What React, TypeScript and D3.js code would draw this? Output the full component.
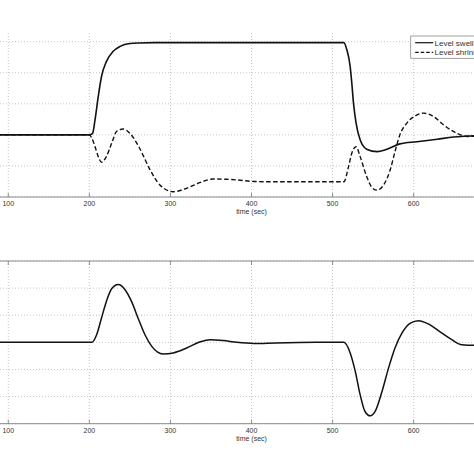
import { useEffect } from 'react';
import * as d3 from 'd3';

// Shared time axis ticks (sec)
const X_TICKS = [100, 200, 300, 400, 500, 600];
const TOP_Y_TICKS = [-0.2, -0.1, 0, 0.1, 0.2, 0.3];
const BOTTOM_Y_TICKS = [-3, -2, -1, 0, 1, 2, 3];

// Upper panel: level response, swell (solid) and shrink (dashed)
const swellTime = [0, 200, 204, 207, 211, 215, 221, 229.5, 238, 250, 262, 280, 400, 514, 517.6, 521.7, 523.7, 525.8, 529, 534, 542, 555, 567, 583, 604, 629, 649, 666, 690, 720];
const swellLevel = [0, 0, 0.005, 0.048, 0.124, 0.188, 0.236, 0.269, 0.285, 0.294, 0.296, 0.297, 0.297, 0.297, 0.274, 0.22, 0.167, 0.102, 0.038, -0.016, -0.046, -0.054, -0.046, -0.029, -0.022, -0.014, -0.007, -0.004, -0.001, 0];

const shrinkTime = [0, 200, 203, 207, 211, 215, 221, 227.5, 233.6, 241.8, 250, 262, 275, 287, 303.5, 320, 336, 353, 369, 382, 403, 430, 470, 514, 519.7, 523.7, 529, 534, 542, 548, 554.6, 563, 571, 577, 583, 591.6, 602, 612, 624.5, 637, 649, 666, 690, 720];
const shrinkLevel = [0, 0, -0.01, -0.038, -0.07, -0.088, -0.07, -0.027, 0.011, 0.019, 0.005, -0.043, -0.113, -0.161, -0.183, -0.172, -0.154, -0.142, -0.143, -0.145, -0.15, -0.151, -0.151, -0.151, -0.102, -0.059, -0.038, -0.07, -0.134, -0.167, -0.178, -0.161, -0.113, -0.054, 0, 0.038, 0.061, 0.07, 0.059, 0.032, 0.011, -0.005, -0.004, 0];

// Lower panel
const lowerTime = [0, 203, 209, 215, 221, 227.5, 235.7, 244, 252, 260, 268.6, 277, 291, 303.5, 320, 336, 349, 365, 382, 403, 430, 480, 514, 521.7, 528, 534, 540, 546.4, 552.5, 561, 569, 577, 585.5, 596, 606, 618, 633, 647, 659.5, 674, 700, 720];
const lowerValue = [0, 0, 0.28, 0.9, 1.51, 1.98, 2.13, 1.94, 1.51, 0.9, 0.28, -0.15, -0.43, -0.39, -0.21, 0.01, 0.1, 0.07, 0, -0.04, -0.02, 0, 0, -0.39, -1.07, -1.93, -2.55, -2.71, -2.55, -1.81, -0.95, -0.21, 0.34, 0.71, 0.8, 0.68, 0.38, 0.1, -0.09, -0.11, -0.06, 0];

const LEGEND = ['Level swell', 'Level shrink'];

const W = 474;
const H = 474;
const FONT = 'Arial, "Liberation Sans", sans-serif';

type Panel = {
  top: number;
  bottom: number;
  domain: [number, number];
  yTicks: number[];
  topBorder: boolean;
};

const x = d3.scaleLinear().domain([0, 800]).range([-72.8, 575.8]);

function PanelAxes({ p }: { p: Panel }) {
  const y = d3.scaleLinear().domain(p.domain).range([p.bottom, p.top]);
  return (
    <g>
      {/* grid */}
      {X_TICKS.map((t) => (
        <line key={'gx' + t} x1={x(t)} x2={x(t)} y1={p.top} y2={p.bottom} stroke="#b8b8b8" strokeWidth={0.8} strokeDasharray="1,2" />
      ))}
      {p.yTicks.map((t) => (
        <line key={'gy' + t} x1={0} x2={W} y1={y(t)} y2={y(t)} stroke="#b8b8b8" strokeWidth={0.8} strokeDasharray="1,2" />
      ))}
      {/* frame */}
      <line x1={0} x2={W} y1={p.bottom} y2={p.bottom} stroke="#8a8a8a" strokeWidth={1} />
      {p.topBorder && <line x1={0} x2={W} y1={p.top} y2={p.top} stroke="#8a8a8a" strokeWidth={1} />}
      {X_TICKS.map((t) => (
        <g key={'t' + t}>
          <line x1={x(t)} x2={x(t)} y1={p.bottom} y2={p.bottom - 4} stroke="#777" strokeWidth={0.8} />
          {p.topBorder && <line x1={x(t)} x2={x(t)} y1={p.top} y2={p.top + 4} stroke="#777" strokeWidth={0.8} />}
          <text x={x(t)} y={p.bottom + 9} textAnchor="middle" fontSize={7} fill="#333" fontFamily={FONT}>
            {t}
          </text>
        </g>
      ))}
      <text x={x(400)} y={p.bottom + 17} textAnchor="middle" fontSize={7} fill="#333" fontFamily={FONT}>
        time (sec)
      </text>
    </g>
  );
}

export default function App() {
  useEffect(() => {
    document.body.style.margin = '0';
  }, []);

  const topPanel: Panel = { top: 33, bottom: 197, domain: [-0.2, 0.328], yTicks: TOP_Y_TICKS, topBorder: false };
  const bottomPanel: Panel = { top: 261, bottom: 423.7, domain: [-3, 3], yTicks: BOTTOM_Y_TICKS, topBorder: true };

  const yTop = d3.scaleLinear().domain(topPanel.domain).range([topPanel.bottom, topPanel.top]);
  const yBot = d3.scaleLinear().domain(bottomPanel.domain).range([bottomPanel.bottom, bottomPanel.top]);

  const lineTop = d3.line<[number, number]>()
    .x((d) => x(d[0]))
    .y((d) => yTop(d[1]))
    .curve(d3.curveMonotoneX);
  const lineBot = d3.line<[number, number]>()
    .x((d) => x(d[0]))
    .y((d) => yBot(d[1]))
    .curve(d3.curveMonotoneX);

  const swell = swellTime.map((t, i) => [t, swellLevel[i]] as [number, number]);
  const shrink = shrinkTime.map((t, i) => [t, shrinkLevel[i]] as [number, number]);
  const lower = lowerTime.map((t, i) => [t, lowerValue[i]] as [number, number]);

  const lx = 410.7;
  const ly = 36;

  return (
    <svg width={W} height={H} style={{ display: 'block', background: '#fff' }}>
      <PanelAxes p={topPanel} />
      <PanelAxes p={bottomPanel} />

      <path d={lineTop(shrink) ?? ''} fill="none" stroke="#111" strokeWidth={1.4} strokeDasharray="4.5,2.5" />
      <path d={lineTop(swell) ?? ''} fill="none" stroke="#111" strokeWidth={1.6} />
      <path d={lineBot(lower) ?? ''} fill="none" stroke="#111" strokeWidth={1.5} />

      {/* legend */}
      <rect x={lx} y={ly} width={80} height={22.3} fill="#fff" stroke="#888" strokeWidth={0.8} />
      {LEGEND.map((label, i) => {
        const yy = ly + 6.7 + i * 9.6;
        return (
          <g key={label}>
            <line x1={lx + 4.5} x2={lx + 22.5} y1={yy} y2={yy} stroke="#111" strokeWidth={1.2} strokeDasharray={i === 1 ? '3.5,2' : undefined} />
            <text x={lx + 23.8} y={yy + 2.8} fontSize={8} fill="#333" fontFamily={FONT}>
              {label}
            </text>
          </g>
        );
      })}
    </svg>
  );
}
